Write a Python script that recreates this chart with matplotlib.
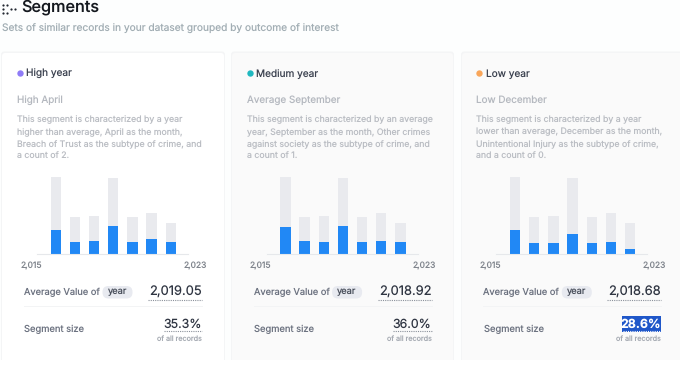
import matplotlib
matplotlib.use("Agg")
import matplotlib.pyplot as plt
from matplotlib.patches import FancyBboxPatch, Rectangle

plt.rcParams['font.family'] = ['Inter', 'DejaVu Sans']
plt.rcParams['text.hinting'] = 'no_hinting'
plt.rcParams['text.hinting_factor'] = 1

W, H = 680, 371

total_counts = [77, 37.5, 38, 76, 37.5, 41.5, 31.5]
high_counts = [24.3, 12, 13.7, 28, 12.7, 15, 12.7]
medium_counts = [27.7, 13.7, 12.7, 28, 12.3, 13.7, 12.7]
low_counts = [24.3, 11.5, 11, 20.5, 11.5, 12.5, 5]

segment_names = ['High year', 'Medium year', 'Low year']
segment_titles = ['High April', 'Average September', 'Low December']
segment_texts = [
    ['This segment is characterized by a year',
     'higher than average, April as the month,',
     'Breach of Trust as the subtype of crime, and',
     'a count of 2.'],
    ['This segment is characterized by an average',
     'year, September as the month, Other crimes',
     'against society as the subtype of crime, and',
     'a count of 1.'],
    ['This segment is characterized by a year',
     'lower than average, December as the month,',
     'Unintentional Injury as the subtype of crime,',
     'and a count of 0.'],
]
average_values = ['2,019.05', '2,018.92', '2,018.68']
segment_sizes = ['35.3%', '36.0%', '28.6%']
dot_colors = ['#8f7cf7', '#1fb8c0', '#f9a65a']
year_start, year_end = '2,015', '2,023'

offsets = [0, 229.6, 459.3]
card_left = [2, 232, 462]
card_right = [224, 453, 690]
card_fill = ['#ffffff', '#fafafa', '#fafafa']

fig = plt.figure(figsize=(W / 100, H / 100), dpi=100, facecolor='#fdfefe')
bg = fig.add_axes([0, 0, 1, 1])
bg.set_xlim(0, W)
bg.set_ylim(H, 0)
bg.axis('off')

bg.add_patch(Rectangle((0, 360), W, 11, fc='#ffffff', ec='none', zorder=0))

# header
for (dx, dy) in [(3, 4.5), (3, 8.5), (3, 12.5), (7, 4.5), (7, 12.5), (10.7, 8.5), (14.5, 8.5)]:
    bg.plot(dx, dy, 'o', ms=1.6, color='#222831', mew=0)
bg.text(21, 7, 'Segments', fontsize=11.7, color='#15191f', va='center', ha='left', fontweight='medium')
bg.text(2, 28.3, 'Sets of similar records in your dataset grouped by outcome of interest',
        fontsize=7.32, color='#a2aeb4', va='center', ha='left')

for i in range(3):
    off = offsets[i]
    l, r = card_left[i], card_right[i]
    # soft edge
    bg.add_patch(FancyBboxPatch((l - 1, 51.5), r - l + 2, 320,
                                boxstyle='round,pad=0,rounding_size=3',
                                fc='#f4f5f6', ec='none', zorder=0.8))
    bg.add_patch(FancyBboxPatch((l, 53), r - l, 320,
                                boxstyle='round,pad=0,rounding_size=3',
                                fc=card_fill[i], ec='none', zorder=1))
    bg.add_patch(Rectangle((l - 2, 360), r - l + 4, 11, fc='#ffffff', ec='none', zorder=1.5))

    bg.plot(20 + off, 73, 'o', ms=4.6, color=dot_colors[i], mew=0, zorder=3)
    bg.text(26.5 + off, 73.8, segment_names[i], fontsize=7.25, color='#3c4250', va='center', zorder=3)
    bg.text(17 + off, 100.5, segment_titles[i], fontsize=7.12, color='#b4b8bf', va='center', zorder=3)
    for j, line in enumerate(segment_texts[i]):
        bg.text(17 + off, 120 + j * 12.2, line, fontsize=6.3, color='#babdc3', va='center', zorder=3)

    bg.text(31 + off, 266.5, year_start, fontsize=6.1, color='#80858d', va='center', ha='center', zorder=3)
    bg.text(195 + off, 266.5, year_end, fontsize=6.1, color='#80858d', va='center', ha='center', zorder=3)

    bg.text(24 + off, 292, 'Average Value of', fontsize=6.7, color='#6c7280', va='center', zorder=3)
    bg.add_patch(FancyBboxPatch((102.5 + off, 286), 30, 12.5,
                                boxstyle='round,pad=0,rounding_size=6',
                                fc='#e8eaf0', ec='none', zorder=3))
    bg.text(117.5 + off, 292, 'year', fontsize=6.7, color='#4a505c', va='center', ha='center', zorder=4)
    bg.text(202 + off, 292.5, average_values[i], fontsize=9.3, color='#2f3542', va='center', ha='right', zorder=4)
    bg.plot([148 + off, 202 + off], [299.5, 299.5], color='#8a909a', lw=0.8, ls=(0, (1, 1)), zorder=4)

    bg.plot([24 + off, 202 + off], [306, 306], color='#f3f4f5', lw=0.7, zorder=2)

    bg.text(24.5 + off, 329.5, 'Segment size', fontsize=6.75, color='#6c7280', va='center', zorder=3)
    if i == 2:
        bg.add_patch(Rectangle((163 + off, 315.5), 38.5, 16, fc='#1f57c9', ec='none', zorder=3))
    bg.text(202 + off, 324, segment_sizes[i], fontsize=8.9,
            color='#ffffff' if i == 2 else '#2f3542',
            fontweight='bold' if i == 2 else 'normal', va='center', ha='right', zorder=4)
    bg.plot([163.5 + off, 202 + off], [330.5, 330.5],
            color='#ffffff' if i == 2 else '#8a909a', lw=0.8, ls=(0, (1, 1)), zorder=5)
    bg.text(202 + off, 338.5, 'of all records', fontsize=5.2, color='#a6abb3', va='center', ha='right', zorder=3)

# bar charts
series = [high_counts, medium_counts, low_counts]
for i, vals in enumerate(series):
    off = offsets[i]
    left, right = 37 + off, 188 + off
    top, base = 174, 254
    ax = fig.add_axes([left / W, 1 - base / H, (right - left) / W, (base - top) / H])
    ax.patch.set_alpha(0)
    x = list(range(len(vals)))
    ax.set_xlim(-0.98, 6.9)
    ax.set_ylim(0.4, base - top + 0.4)
    ax.bar(x, total_counts, width=0.54, color='#e9eaee', zorder=1)
    ax.bar(x, vals, width=0.54, color='#2188f5', zorder=2)
    ax.set_xticks([])
    ax.set_yticks([])
    for s in ['top', 'left', 'right']:
        ax.spines[s].set_visible(False)
    ax.spines['bottom'].set_color('#e6e8eb')
    ax.spines['bottom'].set_linewidth(0.8)

fig.savefig('out.png', dpi=100, facecolor=fig.get_facecolor())
